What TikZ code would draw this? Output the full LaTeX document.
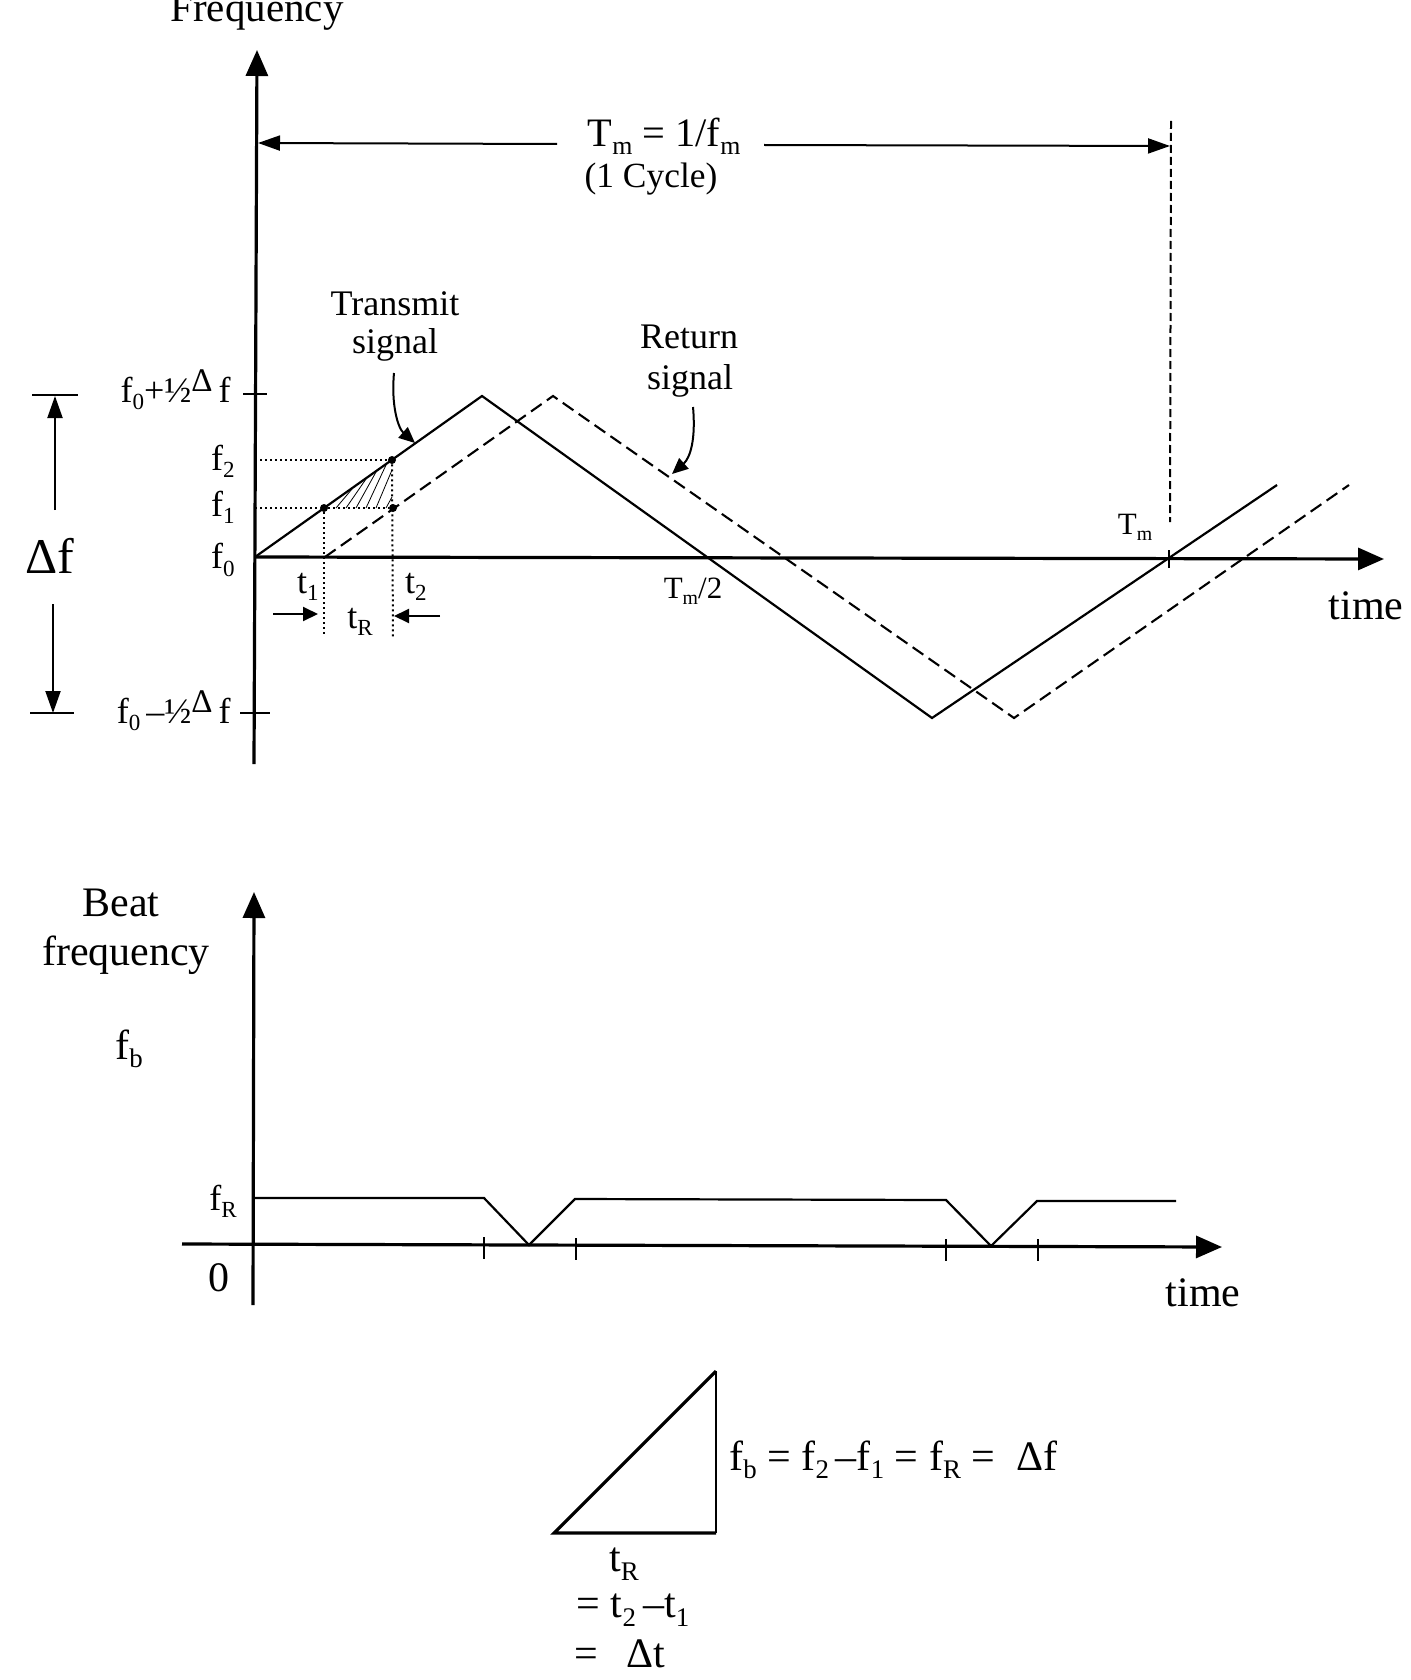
\documentclass[tikz,border=0pt]{standalone}
\usepackage{fontspec}
\setmainfont{Liberation Serif}
\usetikzlibrary{arrows.meta}
\newcommand\lowr[1]{\raisebox{-0.2em}{\scalebox{.64}{#1}}}
\newcommand\fsz[1]{\fontsize{#1}{#1}\selectfont}
\tikzset{
 x=0.5pt,y=-0.5pt,
 axis/.style={line width=1.6pt},
 thinl/.style={line width=1pt},
 sig/.style={line width=1.1pt,line join=miter},
 ret/.style={line width=1.05pt,dash pattern=on 6.5pt off 3.2pt},
 dots/.style={line width=1pt,dash pattern=on 1pt off 1.5pt},
 tipb/.style={-{Triangle[length=13pt,width=11pt]}},
 tipm/.style={-{Triangle[length=11pt,width=7.5pt]}},
 tips/.style={-{Triangle[length=7.5pt,width=7pt]}},
 lab/.style={inner sep=0pt,font=\fsz{18}},
 labs/.style={inner sep=0pt,font=\fsz{15.5}},
 labl/.style={inner sep=0pt,font=\fsz{21}},
 dotn/.style={circle,fill=black,inner sep=0pt,minimum size=4pt},
}
\begin{document}
\begin{tikzpicture}
\useasboundingbox (0,0) rectangle (1411,1680);
\fill[white] (0,0) rectangle (1411,1680);
\coordinate (vtop) at (257,50); \coordinate (vbot) at (254,764);
\coordinate (o) at (255,557); \coordinate (htip) at (1384,559);
\coordinate (t1) at (482,396); \coordinate (t2) at (932,718); \coordinate (t3) at (1277,485);
\coordinate (r0) at (325,557); \coordinate (r1) at (553,396); \coordinate (r2) at (1014,718); \coordinate (r3) at (1349,485);
\draw[axis,tipb] (vbot) -- (vtop);
\draw[axis,tipb] (o) -- (htip);
\draw[sig] (o) -- (t1) -- (t2) -- (t3);
\draw[ret] (r0) -- (r1) -- (r2) -- (r3);
\coordinate (ta) at (243,394); \coordinate (tb) at (267,394);
\coordinate (tc) at (240,713); \coordinate (td) at (270,713);
\draw[thinl] (ta) -- (tb); \draw[thinl] (tc) -- (td);
\coordinate (ba) at (32,395); \coordinate (bb) at (78,395);
\coordinate (bc) at (30,713); \coordinate (bd) at (74,713);
\coordinate (ua) at (55,510); \coordinate (ub) at (55,396);
\coordinate (da) at (53,604); \coordinate (db) at (53,713);
\draw[thinl] (ba) -- (bb); \draw[thinl] (bc) -- (bd);
\draw[thinl,tipm] (ua) -- (ub); \draw[thinl,tipm] (da) -- (db);
\node[dotn] (p2) at (392,460) {};
\node[dotn] (p1) at (324,508) {};
\node[dotn] (p3) at (393,508) {};
\coordinate (y2) at (255,460); \coordinate (y1) at (255,508);
\coordinate (x1) at (324,637); \coordinate (x2) at (393,638);
\draw[dots] (y2) -- (p2); \draw[dots] (y1) -- (p1) -- (p3);
\draw[dots] (p1) -- (x1); \draw[dots] (p2) -- (x2);
\foreach \a/\b/\c/\d in {336/508/352/489, 346/508/366/479, 356/508/376/472, 366/508/386/465, 376/508/392/470, 386/508/392/497}
 \draw[line width=0.4pt] (\a,\b) -- (\c,\d);
\coordinate (a1) at (273,614); \coordinate (a2) at (318,614);
\coordinate (a3) at (440,616); \coordinate (a4) at (394,616);
\draw[thinl,tips] (a1) -- (a2); \draw[thinl,tips] (a3) -- (a4);
\coordinate (m1) at (557,144); \coordinate (m2) at (258,143);
\coordinate (m3) at (764,145); \coordinate (m4) at (1170,146);
\draw[thinl,tipm] (m1) -- (m2); \draw[thinl,tipm] (m3) -- (m4);
\coordinate (d1) at (1171,121); \coordinate (d2) at (1170,522);
\draw[thinl,dash pattern=on 4pt off 2pt] (d1) -- (d2);
\coordinate (k1) at (1169,550); \coordinate (k2) at (1169,568);
\draw[thinl] (k1) -- (k2);
\coordinate (c1) at (394,373); \coordinate (c2) at (415,443);
\coordinate (c3) at (693,407); \coordinate (c4) at (672,474);
\draw[thinl,-{Triangle[length=8pt,width=7pt]}] (c1) .. controls (391,405) and (398,428) .. (c2);
\draw[thinl,-{Triangle[length=8pt,width=7pt]}] (c3) .. controls (696,440) and (690,458) .. (c4);
\node[inner sep=0pt,font=\fsz{20.5}] (freq) at (257,13) {Frequency};
\node[inner sep=0pt,font=\fsz{20.2}] (tm) at (664,136) {T\lowr{m} = 1/f\lowr{m}};
\node[inner sep=0pt,font=\fsz{17.7}] (cyc) at (651,179) {(1 Cycle)};
\node[lab] (tra) at (395,304) {Transmit};
\node[lab] (trb) at (395,345) {signal};
\node[lab] (rea) at (689,337) {Return};
\node[lab] (reb) at (690,381) {signal};
\node[lab,anchor=east] (fp) at (231,390) {f\lowr{0}+\char"00BD\raisebox{.3em}{\fsz{16.5}Δ}\,f};
\node[lab,anchor=east] (fm) at (231,711) {f\lowr{0}\,–\char"00BD\raisebox{.3em}{\fsz{16.5}Δ}\,f};
\node[lab,anchor=east] (f2) at (235,461) {f\lowr{2}};
\node[lab,anchor=east] (f1) at (235,507) {f\lowr{1}};
\node[lab,anchor=east] (f0) at (235,560) {f\lowr{0}};
\node[inner sep=0pt,font=\fsz{25}] (df) at (50,556) {Δf};
\node[lab] (tl1) at (308,587) {t\lowr{1}};
\node[lab] (tl2) at (416,587) {t\lowr{2}};
\node[lab] (tlr) at (360,622) {t\lowr{R}};
\node[labs] (tmh) at (693,591) {T\lowr{m}/2};
\node[labs] (tmm) at (1135,527) {T\lowr{m}};
\node[labl] (time1) at (1366,606) {time};
\coordinate (wbot) at (253,1305); \coordinate (wtop) at (254,892);
\coordinate (hl) at (182,1244); \coordinate (hr) at (1222,1247);
\draw[axis,tipb] (wbot) -- (wtop);
\draw[axis,tipb] (hl) -- (hr);
\coordinate (b0) at (253,1198); \coordinate (b1) at (484,1198); \coordinate (b2) at (529,1245);
\coordinate (b3) at (575,1199); \coordinate (b4) at (946,1200); \coordinate (b5) at (991,1246);
\coordinate (b6) at (1037,1201); \coordinate (b7) at (1176,1201);
\draw[sig] (b0) -- (b1) -- (b2) -- (b3) -- (b4) -- (b5) -- (b6) -- (b7);
\foreach \n/\x/\y in {1/484/1244, 2/576/1245, 3/946/1246, 4/1038/1246}{
 \coordinate (ka\n) at (\x,\y-7);
 \coordinate (kb\n) at (\x,\y+15);
 \draw[line width=1.2pt] (ka\n) -- (kb\n);
}
\node[labl] (beat) at (121,903) {Beat};
\node[labl] (bfr) at (126,955) {frequency};
\node[labl] (fb) at (129,1049) {f\lowr{b}};
\node[lab] (fr) at (223,1201) {f\lowr{R}};
\node[labl] (zero) at (219,1278) {0};
\node[labl] (time2) at (1203,1293) {time};
\coordinate (ta1) at (554,1533); \coordinate (ta2) at (716,1371); \coordinate (ta3) at (716,1533);
\draw[line width=1.6pt,line join=miter] (ta2) -- (ta1) -- (ta3);
\draw[thinl] (ta3) -- (ta2);
\node[labl,anchor=west] (eq) at (729,1460) {f\lowr{b} = f\lowr{2}\,–f\lowr{1} = f\lowr{R} =\ \ Δf};
\node[labl] (etr) at (624,1564) {t\lowr{R}};
\node[labl] (eq2) at (633,1610) {= t\lowr{2}\,–t\lowr{1}};
\node[labl] (eq3) at (620,1654) {=\ \ \,Δt};
\end{tikzpicture}
\end{document}
